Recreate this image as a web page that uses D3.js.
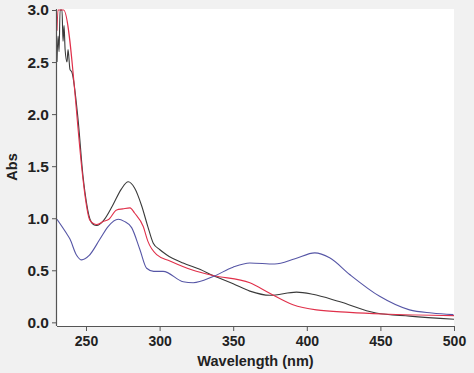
<!DOCTYPE html>
<html><head><meta charset="utf-8">
<script src="https://cdn.jsdelivr.net/npm/d3@7"></script>
<style>
html,body{margin:0;padding:0;background:#f1f1f1;}
svg{display:block;}
text{font-family:"Liberation Sans",Arial,sans-serif;font-weight:bold;fill:#222;}
</style></head><body>
<svg id="c" width="474" height="373"></svg>
<script>
const xTicks = [250, 300, 350, 400, 450, 500];
const yTicks = [0.0, 0.5, 1.0, 1.5, 2.0, 2.5, 3.0];

const blackWl  = [230.3,231.0,231.7,232.4,233.7,234.4,235.1,235.8,237.1,237.8,239.1,240.5,244.6,248.0,249.3,252.7,255,257.3,262,268,274,278.7,283,287.8,292,295.7,300,304.7,316,327.3,336.3,350,361.3,375,393,404,422,447,470,500];
const blackAbs = [2.50,2.75,2.60,3.0,3.0,2.70,2.85,2.62,2.50,2.62,2.43,2.40,1.95,1.40,1.25,0.99,0.94,0.93,0.98,1.12,1.28,1.35,1.29,1.12,0.92,0.76,0.70,0.65,0.57,0.51,0.45,0.37,0.30,0.26,0.29,0.27,0.20,0.09,0.06,0.03];

const redWl  = [230.3,231.0,234.8,248.0,249.3,252.7,257.3,262,265.6,270.8,275,279.9,283,288.9,292,298,307,322.8,336.3,361.3,374.8,390.6,406.5,429,451.7,500];
const redAbs = [2.80,3.0,3.0,1.37,1.22,0.98,0.94,0.97,0.99,1.08,1.09,1.10,1.05,0.92,0.78,0.65,0.59,0.50,0.45,0.38,0.28,0.17,0.12,0.096,0.08,0.065];

const blueWl  = [230.3,236.5,239.1,243.4,247.1,252,259.5,265,271.9,276,281,286.6,291.2,296,302.4,316,322.8,336.4,349.9,361.3,378.2,392,405.4,415.5,429.1,449.5,469.8,485,499.6];
const blueAbs = [0.99,0.86,0.80,0.65,0.60,0.64,0.80,0.92,0.99,0.97,0.91,0.70,0.52,0.49,0.49,0.39,0.38,0.44,0.53,0.57,0.56,0.61,0.667,0.62,0.46,0.25,0.12,0.09,0.074];

const svg = d3.select("#c");
const L = 57, R = 454, T = 9, B = 326;
svg.append("rect").attr("x", L).attr("y", T).attr("width", R - L).attr("height", B - T).attr("fill", "#fff");

const x = d3.scaleLinear().domain([230.3, 500]).range([L, R]);
const y = d3.scaleLinear().domain([-0.035, 3.0]).range([B, 10]);

svg.append("clipPath").attr("id", "cp").append("rect")
  .attr("x", L).attr("y", T).attr("width", R - L).attr("height", B - T);

const line = d3.line().x(d => x(d[0])).y(d => y(d[1])).curve(d3.curveMonotoneX);
const series = [
  [blackWl, blackAbs, "#3a3a3a"],
  [redWl, redAbs, "#e0304a"],
  [blueWl, blueAbs, "#5656a6"]
];
series.forEach(([wl, ab, col]) => {
  svg.append("path").datum(wl.map((w, i) => [w, ab[i]]))
    .attr("d", line).attr("fill", "none").attr("stroke", col)
    .attr("stroke-width", 1.1).attr("clip-path", "url(#cp)");
});

const xa = svg.append("g").attr("transform", `translate(0,${B})`)
  .call(d3.axisBottom(x).tickValues(xTicks).tickSize(5).tickPadding(5).tickFormat(d3.format("d")));
const ya = svg.append("g").attr("transform", `translate(${L},0)`)
  .call(d3.axisLeft(y).tickValues(yTicks).tickSize(5).tickPadding(3).tickFormat(d3.format(".1f")));
[xa, ya].forEach(g => {
  g.select(".domain").attr("stroke", "#555").attr("stroke-width", 1.2);
  g.selectAll(".tick line").attr("stroke", "#555");
  g.selectAll(".tick text").attr("font-family", "Liberation Sans, Arial, sans-serif").attr("font-weight", "bold").attr("fill", "#222");
});
xa.selectAll(".tick text").attr("font-size", 14);
ya.selectAll(".tick text").attr("font-size", 15.5);
ya.select(".domain").attr("d", `M-0.5,${T}V${B}`);
xa.select(".domain").attr("d", `M${L},0.5H${R}`);

svg.append("text").attr("x", (L + R) / 2 + 0).attr("y", 366).attr("text-anchor", "middle")
  .attr("font-size", 14.5).text("Wavelength (nm)");
svg.append("text").attr("transform", "translate(17,167) rotate(-90)").attr("text-anchor", "middle")
  .attr("font-size", 14.5).text("Abs");
</script>
</body></html>
